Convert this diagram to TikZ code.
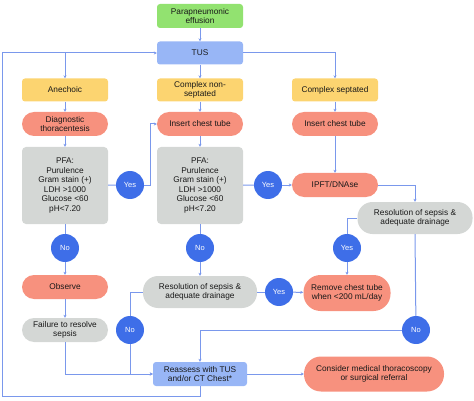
\documentclass[tikz,border=0pt]{standalone}
\usepackage{fontspec}
\setmainfont{Liberation Sans}
\usepackage{xcolor}
\usepackage{tikz}
\usetikzlibrary{arrows.meta,positioning,calc}
\definecolor{StartG}{RGB}{146,226,112}
\definecolor{ScanB}{RGB}{152,182,246}
\definecolor{TypeY}{RGB}{252,212,112}
\definecolor{ActS}{RGB}{247,145,126}
\definecolor{TestG}{RGB}{212,215,213}
\definecolor{DotB}{RGB}{62,110,232}
\definecolor{WireB}{RGB}{122,152,236}
\definecolor{InkD}{RGB}{25,25,25}
\tikzset{
  box/.style={rectangle,rounded corners=3pt,draw=none,text=InkD,align=center,
              minimum width=86pt,minimum height=23pt,inner sep=1pt,
              font=\fontsize{8.3}{9.6}\selectfont},
  start/.style={box,fill=StartG,minimum height=24pt},
  scan/.style={box,fill=ScanB},
  kind/.style={box,fill=TypeY},
  act/.style={box,rounded corners=12pt,fill=ActS,minimum height=24pt},
  test/.style={box,rounded corners=12pt,fill=TestG,minimum height=24pt},
  pfa/.style={box,rounded corners=4pt,fill=TestG,minimum height=77pt},
  dot/.style={circle,fill=DotB,text=white,minimum size=28pt,inner sep=0pt,
              font=\fontsize{7.5}{9}\selectfont},
  wire/.style={WireB,line width=1pt},
  flow/.style={wire,-{Stealth[length=3pt,width=3pt]}},
}
\begin{document}
\begin{tikzpicture}[x=1pt,y=-1pt]
  \useasboundingbox (0,0) rectangle (474,401);
  % top
  \node[start] (effusion) at (200,16) {Parapneumonic\\effusion};
  \node[scan] (tus) at (200,53) {TUS};
  % ultrasound findings
  \node[kind] (anech) at (65,90) {Anechoic};
  \node[kind] (nonsep) at (200,90) {Complex non-\\septated};
  \node[kind] (sept) at (335,90) {Complex septated};
  \node[act] (thora) at (65,124) {Diagnostic\\thoracentesis};
  \node[act] (tubeA) at (200,124) {Insert chest tube};
  \node[act] (tubeB) at (335,124) {Insert chest tube};
  % fluid analysis
  \node[pfa] (pfaA) at (65,185.5) {PFA:\\Purulence\\Gram stain (+)\\LDH >1000\\Glucose <60\\pH<7.20};
  \node[pfa] (pfaB) at (200,185.5) {PFA:\\Purulence\\Gram stain (+)\\LDH >1000\\Glucose <60\\pH<7.20};
  \node[dot] (yesA) at (130,185) {Yes};
  \node[dot] (yesB) at (268,185) {Yes};
  \node[act] (ipft) at (335,185) {IPFT/DNAse};
  \node[test,minimum width=115pt,minimum height=32pt,rounded corners=15pt] (resB) at (415,218) {Resolution of sepsis \&\\adequate drainage};
  \node[dot] (noA) at (65,248) {No};
  \node[dot] (noB) at (200,248) {No};
  \node[dot] (yesC) at (347,248) {Yes};
  % follow up
  \node[act] (observe) at (65,287) {Observe};
  \node[test,minimum width=114pt,minimum height=32pt,rounded corners=15pt] (resA) at (200,292) {Resolution of sepsis \&\\adequate drainage};
  \node[dot] (yesD) at (279,292) {Yes};
  \node[act,minimum width=87pt,minimum height=36pt,rounded corners=17pt] (remove) at (347,293) {Remove chest tube\\when <200 mL/day};
  \node[test] (failure) at (65,330) {Failure to resolve\\sepsis};
  \node[dot] (noC) at (130,330) {No};
  \node[dot] (noD) at (416,330) {No};
  \node[scan,minimum width=94pt,minimum height=24pt] (reassess) at (200,374) {Reassess with TUS\\and/or CT Chest*};
  \node[act,minimum width=140pt,minimum height=35pt,rounded corners=17pt] (consider) at (374,374) {Consider medical thoracoscopy\\or surgical referral};
  % corner points
  \coordinate (loop) at (2,396);
  \coordinate (bendA) at (150,185);
  % connectors
  \draw[flow] (effusion) -- (tus);
  \draw[flow] (reassess.south) |- (loop) |- (tus.west);
  \draw[flow] (anech.north |- tus.west) -- (anech.north);
  \draw[flow] (tus) -- (nonsep);
  \draw[flow] (tus.east) -| (sept.north);
  \draw[flow] (anech) -- (thora);
  \draw[flow] (thora) -- (pfaA);
  \draw[flow] (nonsep) -- (tubeA);
  \draw[flow] (tubeA) -- (pfaB);
  \draw[flow] (sept) -- (tubeB);
  \draw[flow] (tubeB) -- (ipft);
  \draw[wire] (pfaA) -- (yesA);
  \draw[flow] (yesA) -- (bendA) |- (tubeA.west);
  \draw[wire] (pfaB) -- (yesB);
  \draw[flow] (yesB) -- (ipft);
  \draw[flow] (ipft.east) -| (resB.north);
  \draw[wire] (resB.west) -| (yesC.north);
  \draw[flow] (yesC) -- (remove);
  \draw[wire] (pfaA) -- (noA);
  \draw[flow] (noA) -- (observe);
  \draw[flow] (observe) -- (failure);
  \draw[wire] (pfaB) -- (noB);
  \draw[flow] (noB) -- (resA);
  \draw[wire] (resA) -- (yesD);
  \draw[flow] (yesD) -- (remove);
  \draw[wire] (resA.west) -| (noC.north);
  \draw[flow] (noC.south) |- (reassess.west);
  \draw[flow] (failure.south) |- (reassess.west);
  \draw[wire] (resB.south) -- (noD);
  \draw[flow] (noD.west) -| (reassess.north);
  \draw[flow] (reassess) -- (consider);
\end{tikzpicture}
\end{document}
